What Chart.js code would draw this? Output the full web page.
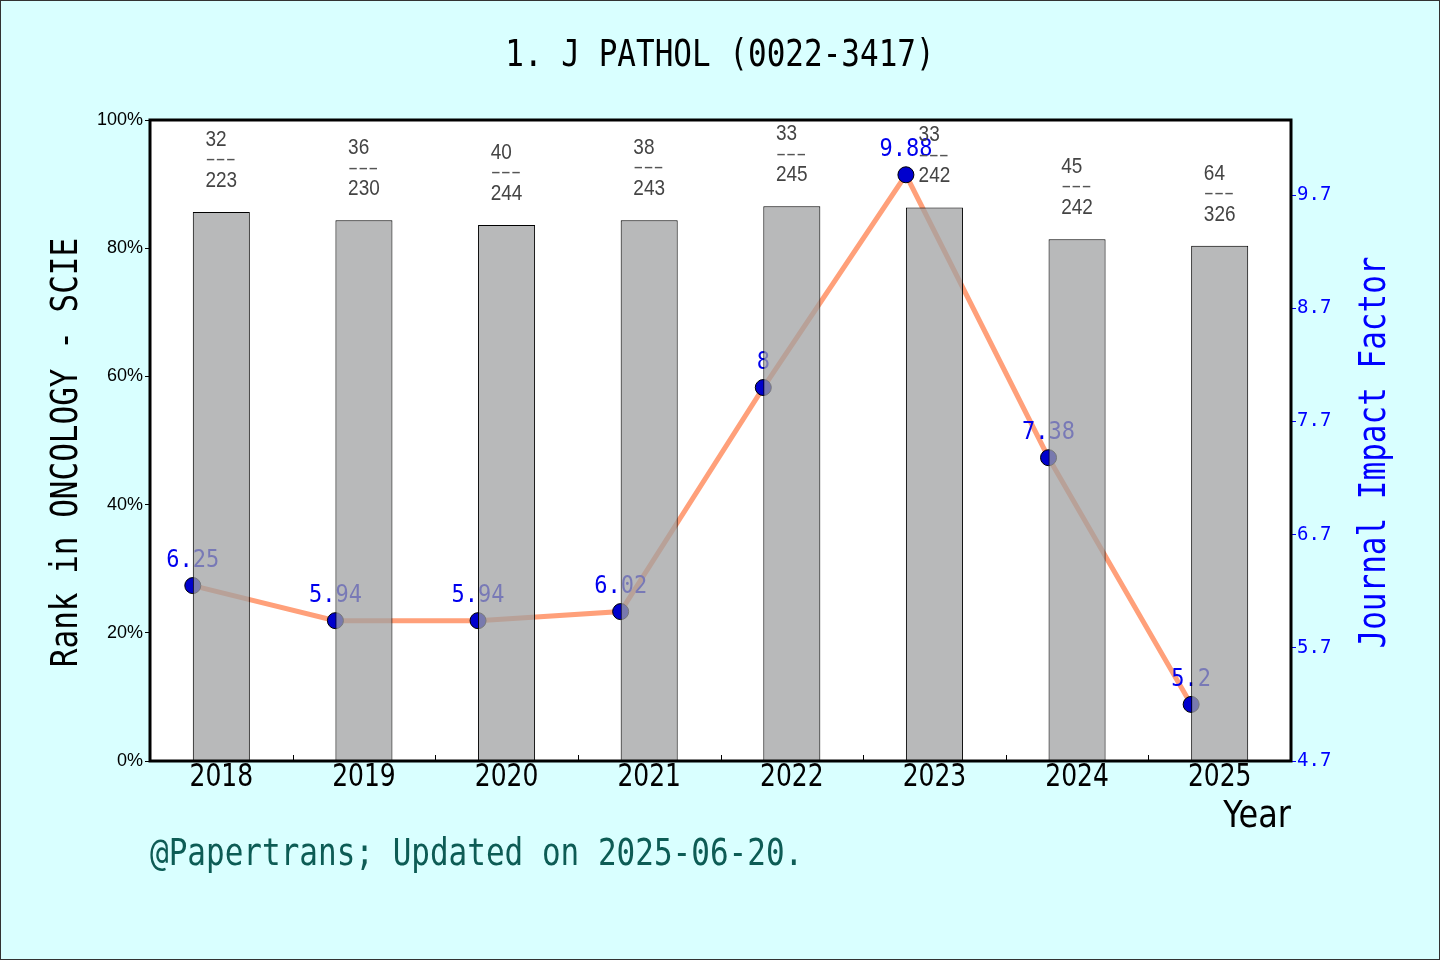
<!DOCTYPE html>
<html>
<head>
<meta charset="utf-8">
<script src="https://cdn.jsdelivr.net/npm/chart.js@4.4.1/dist/chart.umd.min.js"></script>
<style>
  body { margin: 0; background: #d9ffff; }
  #wrap { width: 1440px; height: 960px; }
</style>
</head>
<body>
<div id="wrap"><canvas id="grafica" width="1440" height="960"></canvas></div>
<script>
// datos de la grafica
const years = ['2018', '2019', '2020', '2021', '2022', '2023', '2024', '2025'];
const ranks = [32, 36, 40, 38, 33, 33, 45, 64];
const totals = [223, 230, 244, 243, 245, 242, 242, 326];
const impactFactors = [6.25, 5.94, 5.94, 6.02, 8, 9.88, 7.38, 5.2];
const ifTicks = [4.7, 5.7, 6.7, 7.7, 8.7, 9.7];

const titleText = '1. J PATHOL (0022-3417)';
const leftTitle = 'Rank in ONCOLOGY - SCIE';
const rightTitle = 'Journal Impact Factor';
const xTitle = 'Year';
const footerText = '@Papertrans; Updated on 2025-06-20.';

// porcentaje de la barra = 1 - rango/total
const rankPct = ranks.map((r, i) => 100 * (1 - r / totals[i]));

const barPct = 0.4;
const lineShift = -barPct / 2; // los puntos caen en el borde izquierdo de cada barra
const ifPoints = impactFactors.map((v, i) => ({ x: i + lineShift, y: v }));

const mono = '"DejaVu Sans Mono", monospace';
const sans = '"Liberation Sans", Arial, sans-serif';

function drawText(ctx, text, x, y, font, color, align, sy, rot) {
    ctx.save();
    ctx.translate(x, y);
    if (rot) ctx.rotate(rot);
    ctx.scale(1, sy || 1);
    ctx.font = font;
    ctx.fillStyle = color;
    ctx.textAlign = align || 'center';
    ctx.textBaseline = 'middle';
    ctx.fillText(text, 0, 0);
    ctx.restore();
}

const decor = {
    id: 'decor',
    beforeDraw(chart) {
        const { ctx, chartArea: a } = chart;
        ctx.save();
        ctx.fillStyle = '#d9ffff';
        ctx.fillRect(0, 0, chart.width, chart.height);
        ctx.fillStyle = '#ffffff';
        ctx.fillRect(a.left, a.top, a.right - a.left, a.bottom - a.top);
        ctx.restore();
    },
    afterDatasetDraw(chart, args) {
        // etiquetas del factor de impacto, antes de dibujar las barras encima
        if (args.index !== 1) return;
        const ctx = chart.ctx;
        args.meta.data.forEach((pt, i) => {
            drawText(ctx, String(impactFactors[i]), pt.x, pt.y - 25, '22px ' + mono, '#0000ee', 'center', 1.15);
        });
    },
    afterDatasetsDraw(chart) {
        const { ctx, chartArea: a } = chart;
        // rango / total encima de cada barra
        const bars = chart.getDatasetMeta(0).data;
        bars.forEach((bar, i) => {
            ctx.save();
            ctx.font = '19px ' + sans;
            const w = Math.max(ctx.measureText(String(ranks[i])).width, ctx.measureText(String(totals[i])).width);
            ctx.restore();
            const left = bar.x - w / 2;
            drawText(ctx, String(ranks[i]), left, bar.y - 72, '19px ' + sans, '#444444', 'left', 1.15);
            ctx.save();
            ctx.translate(left, bar.y - 52);
            ctx.scale(1.6, 1);
            ctx.font = '19px ' + sans;
            ctx.fillStyle = '#555555';
            ctx.textAlign = 'left';
            ctx.textBaseline = 'middle';
            ctx.fillText('---', 0, 0);
            ctx.restore();
            drawText(ctx, String(totals[i]), left, bar.y - 31, '19px ' + sans, '#444444', 'left', 1.15);
        });
        // marco del area
        ctx.save();
        ctx.strokeStyle = '#000';
        ctx.lineWidth = 3;
        ctx.strokeRect(a.left, a.top, a.right - a.left, a.bottom - a.top);
        // marcas internas del eje x entre categorias
        const xs = chart.scales.x;
        ctx.lineWidth = 1;
        for (let i = 1; i < years.length; i++) {
            const px = Math.round((xs.getPixelForValue(i - 1) + xs.getPixelForValue(i)) / 2) + 0.5;
            ctx.beginPath();
            ctx.moveTo(px, a.bottom);
            ctx.lineTo(px, a.bottom - 6);
            ctx.stroke();
        }
        ctx.restore();
        // etiquetas del eje x
        years.forEach((y, i) => {
            drawText(ctx, y, xs.getPixelForValue(i), a.bottom + 17, '25px "DejaVu Sans", sans-serif', '#000', 'center', 1.25);
        });
    },
    afterDraw(chart) {
        const { ctx, chartArea: a } = chart;
        drawText(ctx, titleText, chart.width / 2, 56, '31px ' + mono, '#000', 'center', 1.2);
        drawText(ctx, leftTitle, 67, (a.top + a.bottom) / 2 + 12, '31px ' + mono, '#000', 'center', 1.2, -Math.PI / 2);
        drawText(ctx, rightTitle, 1375, (a.top + a.bottom) / 2 + 12, '31px ' + mono, '#0000ff', 'center', 1.2, -Math.PI / 2);
        drawText(ctx, xTitle, a.right, 817, '32px "DejaVu Sans", sans-serif', '#000', 'right', 1.15);
        drawText(ctx, footerText, a.left, 855, '31px ' + mono, '#0d5c55', 'left', 1.2);
        ctx.save();
        ctx.strokeStyle = '#333';
        ctx.lineWidth = 1;
        ctx.strokeRect(0.5, 0.5, chart.width - 1, chart.height - 1);
        ctx.restore();
    }
};

const ctx = document.getElementById('grafica').getContext('2d');
new Chart(ctx, {
    type: 'bar',
    data: {
        labels: years,
        datasets: [{
            type: 'bar',
            label: 'Rank',
            data: rankPct,
            xAxisID: 'x',
            yAxisID: 'y',
            backgroundColor: 'rgba(160, 161, 163, 0.75)',
            borderColor: '#000',
            borderWidth: 1,
            grouped: false,
            barPercentage: barPct,
            categoryPercentage: 1,
            order: 1
        }, {
            type: 'line',
            label: 'IF',
            data: ifPoints,
            xAxisID: 'xl',
            yAxisID: 'y2',
            borderColor: '#ffa07a',
            borderWidth: 5,
            pointRadius: 8,
            pointBackgroundColor: '#0000cd',
            pointBorderColor: '#000',
            pointBorderWidth: 1,
            tension: 0,
            order: 2
        }]
    },
    options: {
        responsive: false,
        animation: false,
        layout: { padding: { top: 120, left: 0, right: 0, bottom: 0 } },
        plugins: {
            legend: { display: false },
            tooltip: { enabled: false },
            title: { display: false }
        },
        scales: {
            x: {
                type: 'category',
                offset: true,
                grid: { display: false },
                border: { display: false },
                ticks: { display: false },
                afterFit(s) { s.height = 199; }
            },
            xl: {
                type: 'linear',
                display: false,
                offset: false,
                bounds: 'data',
                min: -0.5,
                max: years.length - 0.5
            },
            y: {
                position: 'left',
                min: 0,
                max: 100,
                grid: { drawOnChartArea: false, tickLength: 5, color: '#000' },
                border: { display: false },
                ticks: {
                    stepSize: 20,
                    color: '#000',
                    padding: 2,
                    font: { family: 'Liberation Sans', size: 18 },
                    callback: v => v + '%'
                },
                afterFit(s) { s.width = 150; }
            },
            y2: {
                position: 'right',
                min: 4.7,
                max: 10.364,
                grid: { drawOnChartArea: false, tickLength: 5, color: '#0000ff' },
                border: { display: false },
                ticks: {
                    color: '#0000ff',
                    padding: 1,
                    font: { family: 'DejaVu Sans Mono', size: 19 },
                    callback: v => Number(v).toFixed(1)
                },
                afterBuildTicks(s) { s.ticks = ifTicks.map(v => ({ value: v })); },
                afterFit(s) { s.width = 149; }
            }
        }
    },
    plugins: [decor]
});
</script>
</body>
</html>
